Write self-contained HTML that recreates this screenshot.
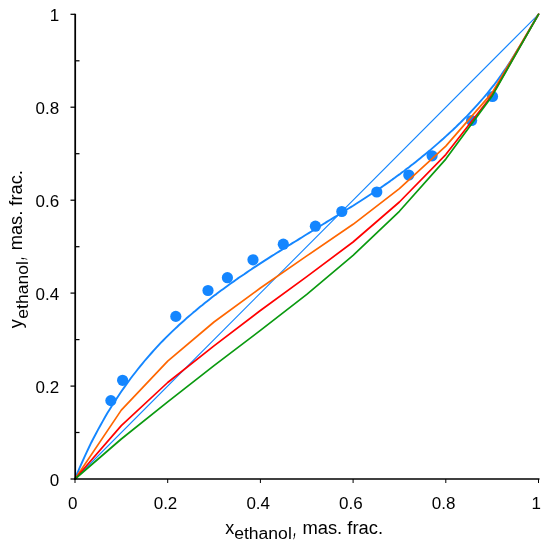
<!DOCTYPE html>
<html><head><meta charset="utf-8"><title>chart</title>
<style>
html,body{margin:0;padding:0;background:#fff;}
svg{display:block;}
text{font-family:"Liberation Sans",sans-serif;fill:#000;}
.t{font-size:17px;}
.l{font-size:18px;}
.s{font-size:16px;}
</style></head><body>
<svg width="550" height="546" viewBox="0 0 550 546">
<rect width="550" height="546" fill="#fff"/>
<g fill="#1486ff">
<circle cx="110.9" cy="400.6" r="5.6"/>
<circle cx="122.6" cy="380.3" r="5.6"/>
<circle cx="175.8" cy="316.4" r="5.6"/>
<circle cx="208.0" cy="290.5" r="5.6"/>
<circle cx="227.4" cy="277.7" r="5.6"/>
<circle cx="253.0" cy="259.8" r="5.6"/>
<circle cx="283.3" cy="244.2" r="5.6"/>
<circle cx="315.4" cy="226.2" r="5.6"/>
<circle cx="341.8" cy="211.5" r="5.6"/>
<circle cx="376.8" cy="192.0" r="5.6"/>
<circle cx="408.8" cy="175.0" r="5.6"/>
<circle cx="432.1" cy="155.8" r="5.6"/>
<circle cx="471.6" cy="120.5" r="5.6"/>
<circle cx="492.5" cy="96.5" r="5.6"/>
</g>
<g fill="none" stroke-linejoin="round" stroke-linecap="round">
<polyline points="75.0,479.0 77.3,473.3 79.6,467.8 82.0,462.5 84.3,457.3 86.6,452.3 88.9,447.5 91.2,442.7 93.5,438.2 95.9,433.7 98.2,429.4 100.5,425.2 102.8,421.1 105.1,417.0 107.4,413.1 109.8,409.3 112.1,405.6 114.4,401.9 116.7,398.4 119.0,394.9 121.3,391.5 123.7,388.1 126.0,384.9 128.3,381.7 130.6,378.5 132.9,375.5 135.3,372.5 137.6,369.5 139.9,366.6 142.2,363.8 144.5,361.0 146.8,358.3 149.2,355.6 151.5,353.0 153.8,350.4 156.1,347.9 158.4,345.4 160.7,342.9 163.1,340.5 165.4,338.2 167.7,335.9 170.0,333.6 172.3,331.4 174.7,329.1 177.0,327.0 179.3,324.8 181.6,322.7 183.9,320.7 186.2,318.6 188.6,316.6 190.9,314.6 193.2,312.6 195.5,310.7 197.8,308.7 200.1,306.8 202.5,305.0 204.8,303.1 207.1,301.3 209.4,299.4 211.7,297.6 214.0,295.8 216.4,294.1 218.7,292.3 221.0,290.6 223.3,288.9 225.6,287.2 228.0,285.5 230.3,283.8 232.6,282.2 234.9,280.6 237.2,278.9 239.5,277.3 241.9,275.7 244.2,274.2 246.5,272.6 248.8,271.0 251.1,269.5 253.4,267.9 255.8,266.4 258.1,264.9 260.4,263.4 262.7,261.9 265.0,260.4 267.4,258.9 269.7,257.4 272.0,255.9 274.3,254.5 276.6,253.0 278.9,251.6 281.3,250.1 283.6,248.7 285.9,247.2 288.2,245.8 290.5,244.4 292.8,242.9 295.2,241.5 297.5,240.1 299.8,238.6 302.1,237.2 304.4,235.8 306.8,234.3 309.1,232.9 311.4,231.5 313.7,230.0 316.0,228.6 318.3,227.2 320.7,225.7 323.0,224.3 325.3,222.9 327.6,221.4 329.9,220.0 332.2,218.6 334.6,217.1 336.9,215.7 339.2,214.3 341.5,212.8 343.8,211.4 346.1,210.0 348.5,208.5 350.8,207.1 353.1,205.7 355.4,204.2 357.7,202.8 360.1,201.3 362.4,199.8 364.7,198.3 367.0,196.8 369.3,195.3 371.6,193.8 374.0,192.3 376.3,190.7 378.6,189.1 380.9,187.6 383.2,186.0 385.5,184.4 387.9,182.7 390.2,181.1 392.5,179.4 394.8,177.8 397.1,176.1 399.5,174.4 401.8,172.6 404.1,170.9 406.4,169.1 408.7,167.4 411.0,165.6 413.4,163.8 415.7,161.9 418.0,160.1 420.3,158.2 422.6,156.3 424.9,154.4 427.3,152.5 429.6,150.6 431.9,148.6 434.2,146.6 436.5,144.6 438.8,142.6 441.2,140.5 443.5,138.5 445.8,136.4 448.1,134.3 450.4,132.1 452.8,130.0 455.1,127.8 457.4,125.5 459.7,123.3 462.0,121.0 464.3,118.7 466.7,116.3 469.0,113.9 471.3,111.4 473.6,108.9 475.9,106.4 478.2,103.8 480.6,101.2 482.9,98.5 485.2,95.8 487.5,93.0 489.8,90.2 492.2,87.2 494.5,84.3 496.8,81.2 499.1,78.0 501.4,74.8 503.7,71.4 506.1,68.0 508.4,64.5 510.7,61.0 513.0,57.3 515.3,53.6 517.6,49.8 520.0,46.0 522.3,42.2 524.6,38.2 526.9,34.3 529.2,30.3 531.5,26.3 533.9,22.3 536.2,18.3 538.5,14.3" stroke="#1486ff" stroke-width="1.9"/>
<line x1="75.0" y1="479.0" x2="538.5" y2="14.3" stroke="#1486ff" stroke-width="1.1"/>
<polyline points="75.0,479.0 121.3,410.1 167.7,361.1 214.0,322.0 260.4,288.0 306.8,255.9 353.1,224.3 399.4,188.7 445.8,146.1 492.2,92.6 538.5,14.3" stroke="#ff6600" stroke-width="1.7"/>
<polyline points="75.0,479.0 121.3,425.6 167.7,382.5 214.0,345.9 260.4,310.5 306.8,276.6 353.1,242.0 399.4,202.0 445.8,154.6 492.2,95.1 538.5,14.3" stroke="#ff0000" stroke-width="1.7"/>
<polyline points="75.0,479.0 121.3,439.0 167.7,401.9 214.0,365.7 260.4,330.4 306.8,294.4 353.1,255.3 399.4,211.3 445.8,159.1 492.2,95.9 538.5,14.3" stroke="#0a9a10" stroke-width="1.7"/>
</g>
<g stroke="#000" fill="none">
<line x1="75.2" y1="13.8" x2="75.2" y2="480" stroke-width="1.75"/>
<line x1="74.3" y1="479" x2="539.5" y2="479" stroke-width="1.7"/>
</g>
<g stroke="#000" stroke-width="1.25" fill="none">
<line x1="70.5" y1="479.0" x2="75" y2="479.0"/>
<line x1="75" y1="432.5" x2="79.5" y2="432.5"/>
<line x1="70.5" y1="386.1" x2="75" y2="386.1"/>
<line x1="75" y1="339.6" x2="79.5" y2="339.6"/>
<line x1="70.5" y1="293.1" x2="75" y2="293.1"/>
<line x1="75" y1="246.7" x2="79.5" y2="246.7"/>
<line x1="70.5" y1="200.2" x2="75" y2="200.2"/>
<line x1="75" y1="153.7" x2="79.5" y2="153.7"/>
<line x1="70.5" y1="107.2" x2="75" y2="107.2"/>
<line x1="75" y1="60.8" x2="79.5" y2="60.8"/>
<line x1="70.5" y1="14.3" x2="75" y2="14.3"/>
<line x1="75.0" y1="479" x2="75.0" y2="483" stroke-width="1"/>
<line x1="167.7" y1="479" x2="167.7" y2="483" stroke-width="1"/>
<line x1="260.4" y1="479" x2="260.4" y2="483" stroke-width="1"/>
<line x1="353.1" y1="479" x2="353.1" y2="483" stroke-width="1"/>
<line x1="445.8" y1="479" x2="445.8" y2="483" stroke-width="1"/>
<line x1="538.5" y1="479" x2="538.5" y2="483" stroke-width="1"/>
</g>
<text class="t" x="59.1" y="485.6" text-anchor="end">0</text>
<text class="t" x="72.8" y="508.7" text-anchor="middle">0</text>
<text class="t" x="59.1" y="392.7" text-anchor="end">0.2</text>
<text class="t" x="165.5" y="508.7" text-anchor="middle">0.2</text>
<text class="t" x="59.1" y="299.7" text-anchor="end">0.4</text>
<text class="t" x="258.2" y="508.7" text-anchor="middle">0.4</text>
<text class="t" x="59.1" y="206.8" text-anchor="end">0.6</text>
<text class="t" x="350.9" y="508.7" text-anchor="middle">0.6</text>
<text class="t" x="59.1" y="113.8" text-anchor="end">0.8</text>
<text class="t" x="443.6" y="508.7" text-anchor="middle">0.8</text>
<text class="t" x="59.1" y="20.9" text-anchor="end">1</text>
<text class="t" x="536.3" y="508.7" text-anchor="middle">1</text>
<text class="l" x="225.2" y="533.5">x</text>
<text class="s" x="234.2" y="538.7" textLength="57.6" lengthAdjust="spacingAndGlyphs">ethanol</text>
<text class="l" transform="translate(292.4,535.6) scale(0.72,1.4) skewX(-16)">,</text>
<text class="l" x="302.4" y="533.5" textLength="80.6" lengthAdjust="spacingAndGlyphs">mas. frac.</text>
<g transform="translate(21.6,328.2) rotate(-90)">
<text class="l" x="0" y="0">y</text>
<text class="s" x="9.5" y="5.9" textLength="57.6" lengthAdjust="spacingAndGlyphs">ethanol</text>
<text class="l" transform="translate(67.6,2.1) scale(0.72,1.4) skewX(-16)">,</text>
<text class="l" x="77.9" y="0" textLength="80.2" lengthAdjust="spacingAndGlyphs">mas. frac.</text>
</g>
</svg></body></html>
